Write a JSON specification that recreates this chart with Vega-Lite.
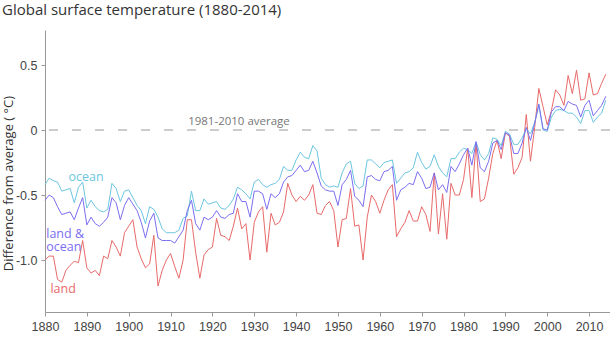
{
  "$schema": "https://vega.github.io/schema/vega-lite/v6.json",
  "autosize": {"type": "none"},
  "width": 565,
  "height": 282,
  "padding": {"left": 45, "top": 30, "right": 0, "bottom": 28},
  "background": "white",
  "config": {"view": {"stroke": null}, "font": "Liberation Sans"},
  "title": {"text": "Global surface temperature (1880-2014)", "anchor": "start", "frame": "group", "dx": -43, "offset": 12, "fontSize": 15, "fontWeight": "normal", "font": "Open Sans", "color": "#333333"},
  "datasets": {
    "temps": [
      {"year":1880,"land":-1.00,"lo":-0.54,"ocean":-0.42},
      {"year":1881,"land":-0.97,"lo":-0.50,"ocean":-0.37},
      {"year":1882,"land":-0.97,"lo":-0.52,"ocean":-0.39},
      {"year":1883,"land":-1.15,"lo":-0.59,"ocean":-0.40},
      {"year":1884,"land":-1.17,"lo":-0.65,"ocean":-0.47},
      {"year":1885,"land":-1.08,"lo":-0.64,"ocean":-0.46},
      {"year":1886,"land":-1.04,"lo":-0.63,"ocean":-0.45},
      {"year":1887,"land":-1.01,"lo":-0.69,"ocean":-0.56},
      {"year":1888,"land":-1.02,"lo":-0.60,"ocean":-0.44},
      {"year":1889,"land":-0.85,"lo":-0.52,"ocean":-0.40},
      {"year":1890,"land":-1.06,"lo":-0.73,"ocean":-0.60},
      {"year":1891,"land":-1.10,"lo":-0.67,"ocean":-0.54},
      {"year":1892,"land":-1.08,"lo":-0.72,"ocean":-0.59},
      {"year":1893,"land":-1.12,"lo":-0.74,"ocean":-0.62},
      {"year":1894,"land":-0.97,"lo":-0.71,"ocean":-0.63},
      {"year":1895,"land":-0.99,"lo":-0.67,"ocean":-0.61},
      {"year":1896,"land":-0.85,"lo":-0.52,"ocean":-0.41},
      {"year":1897,"land":-0.90,"lo":-0.56,"ocean":-0.45},
      {"year":1898,"land":-0.97,"lo":-0.69,"ocean":-0.55},
      {"year":1899,"land":-0.79,"lo":-0.58,"ocean":-0.47},
      {"year":1900,"land":-0.74,"lo":-0.52,"ocean":-0.46},
      {"year":1901,"land":-0.69,"lo":-0.57,"ocean":-0.52},
      {"year":1902,"land":-0.90,"lo":-0.62,"ocean":-0.58},
      {"year":1903,"land":-0.99,"lo":-0.71,"ocean":-0.62},
      {"year":1904,"land":-1.06,"lo":-0.83,"ocean":-0.72},
      {"year":1905,"land":-1.03,"lo":-0.70,"ocean":-0.59},
      {"year":1906,"land":-0.81,"lo":-0.64,"ocean":-0.61},
      {"year":1907,"land":-1.20,"lo":-0.83,"ocean":-0.67},
      {"year":1908,"land":-1.08,"lo":-0.85,"ocean":-0.76},
      {"year":1909,"land":-1.00,"lo":-0.85,"ocean":-0.79},
      {"year":1910,"land":-0.95,"lo":-0.85,"ocean":-0.79},
      {"year":1911,"land":-1.05,"lo":-0.87,"ocean":-0.79},
      {"year":1912,"land":-1.14,"lo":-0.82,"ocean":-0.77},
      {"year":1913,"land":-1.00,"lo":-0.77,"ocean":-0.68},
      {"year":1914,"land":-0.69,"lo":-0.62,"ocean":-0.66},
      {"year":1915,"land":-0.69,"lo":-0.54,"ocean":-0.47},
      {"year":1916,"land":-0.94,"lo":-0.72,"ocean":-0.62},
      {"year":1917,"land":-1.14,"lo":-0.77,"ocean":-0.62},
      {"year":1918,"land":-0.96,"lo":-0.67,"ocean":-0.53},
      {"year":1919,"land":-0.92,"lo":-0.69,"ocean":-0.57},
      {"year":1920,"land":-0.90,"lo":-0.67,"ocean":-0.56},
      {"year":1921,"land":-0.68,"lo":-0.62,"ocean":-0.55},
      {"year":1922,"land":-0.81,"lo":-0.67,"ocean":-0.60},
      {"year":1923,"land":-0.82,"lo":-0.68,"ocean":-0.61},
      {"year":1924,"land":-0.85,"lo":-0.65,"ocean":-0.58},
      {"year":1925,"land":-0.74,"lo":-0.64,"ocean":-0.53},
      {"year":1926,"land":-0.60,"lo":-0.49,"ocean":-0.44},
      {"year":1927,"land":-0.76,"lo":-0.55,"ocean":-0.46},
      {"year":1928,"land":-0.72,"lo":-0.55,"ocean":-0.49},
      {"year":1929,"land":-1.00,"lo":-0.67,"ocean":-0.53},
      {"year":1930,"land":-0.71,"lo":-0.47,"ocean":-0.40},
      {"year":1931,"land":-0.63,"lo":-0.47,"ocean":-0.38},
      {"year":1932,"land":-0.59,"lo":-0.49,"ocean":-0.42},
      {"year":1933,"land":-0.94,"lo":-0.61,"ocean":-0.44},
      {"year":1934,"land":-0.64,"lo":-0.49,"ocean":-0.42},
      {"year":1935,"land":-0.73,"lo":-0.52,"ocean":-0.41},
      {"year":1936,"land":-0.71,"lo":-0.49,"ocean":-0.38},
      {"year":1937,"land":-0.63,"lo":-0.40,"ocean":-0.28},
      {"year":1938,"land":-0.41,"lo":-0.36,"ocean":-0.31},
      {"year":1939,"land":-0.50,"lo":-0.35,"ocean":-0.31},
      {"year":1940,"land":-0.55,"lo":-0.31,"ocean":-0.23},
      {"year":1941,"land":-0.51,"lo":-0.27,"ocean":-0.17},
      {"year":1942,"land":-0.54,"lo":-0.32,"ocean":-0.21},
      {"year":1943,"land":-0.50,"lo":-0.31,"ocean":-0.22},
      {"year":1944,"land":-0.42,"lo":-0.24,"ocean":-0.12},
      {"year":1945,"land":-0.64,"lo":-0.33,"ocean":-0.16},
      {"year":1946,"land":-0.65,"lo":-0.43,"ocean":-0.37},
      {"year":1947,"land":-0.58,"lo":-0.46,"ocean":-0.42},
      {"year":1948,"land":-0.55,"lo":-0.47,"ocean":-0.44},
      {"year":1949,"land":-0.62,"lo":-0.47,"ocean":-0.43},
      {"year":1950,"land":-0.90,"lo":-0.58,"ocean":-0.44},
      {"year":1951,"land":-0.69,"lo":-0.42,"ocean":-0.33},
      {"year":1952,"land":-0.68,"lo":-0.38,"ocean":-0.26},
      {"year":1953,"land":-0.45,"lo":-0.31,"ocean":-0.24},
      {"year":1954,"land":-0.74,"lo":-0.51,"ocean":-0.41},
      {"year":1955,"land":-0.73,"lo":-0.54,"ocean":-0.45},
      {"year":1956,"land":-1.00,"lo":-0.59,"ocean":-0.43},
      {"year":1957,"land":-0.67,"lo":-0.36,"ocean":-0.23},
      {"year":1958,"land":-0.50,"lo":-0.35,"ocean":-0.23},
      {"year":1959,"land":-0.55,"lo":-0.38,"ocean":-0.26},
      {"year":1960,"land":-0.64,"lo":-0.39,"ocean":-0.29},
      {"year":1961,"land":-0.54,"lo":-0.32,"ocean":-0.25},
      {"year":1962,"land":-0.46,"lo":-0.31,"ocean":-0.24},
      {"year":1963,"land":-0.42,"lo":-0.28,"ocean":-0.23},
      {"year":1964,"land":-0.82,"lo":-0.54,"ocean":-0.41},
      {"year":1965,"land":-0.76,"lo":-0.46,"ocean":-0.37},
      {"year":1966,"land":-0.71,"lo":-0.44,"ocean":-0.33},
      {"year":1967,"land":-0.62,"lo":-0.41,"ocean":-0.32},
      {"year":1968,"land":-0.70,"lo":-0.42,"ocean":-0.29},
      {"year":1969,"land":-0.70,"lo":-0.32,"ocean":-0.17},
      {"year":1970,"land":-0.59,"lo":-0.37,"ocean":-0.25},
      {"year":1971,"land":-0.65,"lo":-0.45,"ocean":-0.30},
      {"year":1972,"land":-0.78,"lo":-0.44,"ocean":-0.28},
      {"year":1973,"land":-0.33,"lo":-0.33,"ocean":-0.19},
      {"year":1974,"land":-0.80,"lo":-0.46,"ocean":-0.28},
      {"year":1975,"land":-0.49,"lo":-0.42,"ocean":-0.33},
      {"year":1976,"land":-0.84,"lo":-0.48,"ocean":-0.36},
      {"year":1977,"land":-0.41,"lo":-0.28,"ocean":-0.22},
      {"year":1978,"land":-0.50,"lo":-0.32,"ocean":-0.22},
      {"year":1979,"land":-0.50,"lo":-0.26,"ocean":-0.17},
      {"year":1980,"land":-0.38,"lo":-0.19,"ocean":-0.14},
      {"year":1981,"land":-0.14,"lo":-0.14,"ocean":-0.15},
      {"year":1982,"land":-0.52,"lo":-0.27,"ocean":-0.18},
      {"year":1983,"land":-0.10,"lo":-0.09,"ocean":-0.09},
      {"year":1984,"land":-0.55,"lo":-0.29,"ocean":-0.19},
      {"year":1985,"land":-0.53,"lo":-0.32,"ocean":-0.23},
      {"year":1986,"land":-0.37,"lo":-0.24,"ocean":-0.18},
      {"year":1987,"land":-0.18,"lo":-0.10,"ocean":-0.06},
      {"year":1988,"land":-0.08,"lo":-0.08,"ocean":-0.07},
      {"year":1989,"land":-0.22,"lo":-0.15,"ocean":-0.12},
      {"year":1990,"land":-0.02,"lo":-0.02,"ocean":-0.01},
      {"year":1991,"land":-0.05,"lo":-0.04,"ocean":-0.03},
      {"year":1992,"land":-0.34,"lo":-0.18,"ocean":-0.11},
      {"year":1993,"land":-0.29,"lo":-0.18,"ocean":-0.11},
      {"year":1994,"land":-0.21,"lo":-0.10,"ocean":-0.06},
      {"year":1995,"land":0.12,"lo":0.02,"ocean":0.01},
      {"year":1996,"land":-0.24,"lo":-0.08,"ocean":-0.03},
      {"year":1997,"land":0.02,"lo":0.05,"ocean":0.06},
      {"year":1998,"land":0.32,"lo":0.20,"ocean":0.19},
      {"year":1999,"land":0.18,"lo":0.01,"ocean":0.00},
      {"year":2000,"land":0.04,"lo":0.00,"ocean":-0.01},
      {"year":2001,"land":0.15,"lo":0.14,"ocean":0.10},
      {"year":2002,"land":0.31,"lo":0.18,"ocean":0.15},
      {"year":2003,"land":0.27,"lo":0.18,"ocean":0.16},
      {"year":2004,"land":0.19,"lo":0.15,"ocean":0.15},
      {"year":2005,"land":0.42,"lo":0.22,"ocean":0.13},
      {"year":2006,"land":0.28,"lo":0.20,"ocean":0.13},
      {"year":2007,"land":0.46,"lo":0.19,"ocean":0.10},
      {"year":2008,"land":0.23,"lo":0.10,"ocean":0.05},
      {"year":2009,"land":0.24,"lo":0.19,"ocean":0.15},
      {"year":2010,"land":0.44,"lo":0.23,"ocean":0.15},
      {"year":2011,"land":0.27,"lo":0.11,"ocean":0.06},
      {"year":2012,"land":0.28,"lo":0.15,"ocean":0.10},
      {"year":2013,"land":0.36,"lo":0.19,"ocean":0.13},
      {"year":2014,"land":0.43,"lo":0.26,"ocean":0.23}
    ],
    "labels": [
      {"series": "ocean", "text": "ocean", "year": 1885.6, "value": -0.36},
      {"series": "lo", "text": "land &\nocean", "year": 1880.3, "value": -0.80},
      {"series": "land", "text": "land", "year": 1881.3, "value": -1.22}
    ],
    "avg": [
      {"value": 0, "year": 1914.2, "text": "1981-2010 average", "tv": 0.06}
    ]
  },
  "layer": [
    {
      "data": {"name": "avg"},
      "mark": {"type": "rule", "stroke": "#cccccc", "strokeWidth": 2, "strokeDash": [9, 14]},
      "encoding": {
        "y": {"field": "value", "type": "quantitative", "scale": {"domain": [-1.4, 0.77], "nice": false, "zero": false},
          "axis": {"values": [0.5, 0, -0.5, -1.0], "labelExpr": "datum.value == 0 ? '0' : (datum.value < 0 ? '-' + format(-datum.value, '.1f') : format(datum.value, '.1f'))",
            "title": "Difference from average ( °C)", "titleFontSize": 13, "titleFontWeight": "normal", "titleColor": "#333333", "titleFont": "Open Sans",
            "titleX": -43, "titleY": 153, "titleAngle": -90, "titleAlign": "center", "titleBaseline": "top",
            "labelFontSize": 12.5, "labelColor": "#444444", "labelPadding": 4, "tickSize": 4, "tickColor": "#999999", "domainColor": "#999999", "grid": false}}
      }
    },
    {
      "data": {"name": "avg"},
      "mark": {"type": "text", "align": "left", "baseline": "middle", "fontSize": 11.5, "color": "#777777", "font": "Open Sans"},
      "encoding": {
        "x": {"field": "year", "type": "quantitative"},
        "y": {"field": "tv", "type": "quantitative"},
        "text": {"field": "text"}
      }
    },
    {
      "data": {"name": "temps"},
      "transform": [{"fold": ["land", "ocean", "lo"], "as": ["series", "value"]}],
      "mark": {"type": "line", "strokeWidth": 1},
      "encoding": {
        "x": {"field": "year", "type": "quantitative", "scale": {"domain": [1880, 2015], "nice": false, "zero": false},
          "axis": {"values": [1880, 1890, 1900, 1910, 1920, 1930, 1940, 1950, 1960, 1970, 1980, 1990, 2000, 2010], "format": "d", "title": null,
            "labelOverlap": false, "labelBound": false, "labelFlush": false,
            "labelFontSize": 12.5, "labelColor": "#444444", "tickSize": 4, "tickColor": "#999999", "domainColor": "#999999", "grid": false, "labelPadding": 4}},
        "y": {"field": "value", "type": "quantitative"},
        "color": {"field": "series", "type": "nominal", "scale": {"domain": ["land", "ocean", "lo"], "range": ["#e86a6a", "#6cc6e0", "#7b6ef0"]}, "legend": null},
        "order": {"field": "year"}
      }
    },
    {
      "data": {"name": "labels"},
      "mark": {"type": "text", "align": "left", "baseline": "middle", "fontSize": 12.5, "font": "Open Sans", "lineBreak": "\n", "lineHeight": 13},
      "encoding": {
        "x": {"field": "year", "type": "quantitative"},
        "y": {"field": "value", "type": "quantitative"},
        "text": {"field": "text"},
        "color": {"field": "series", "type": "nominal", "legend": null}
      }
    }
  ]
}
